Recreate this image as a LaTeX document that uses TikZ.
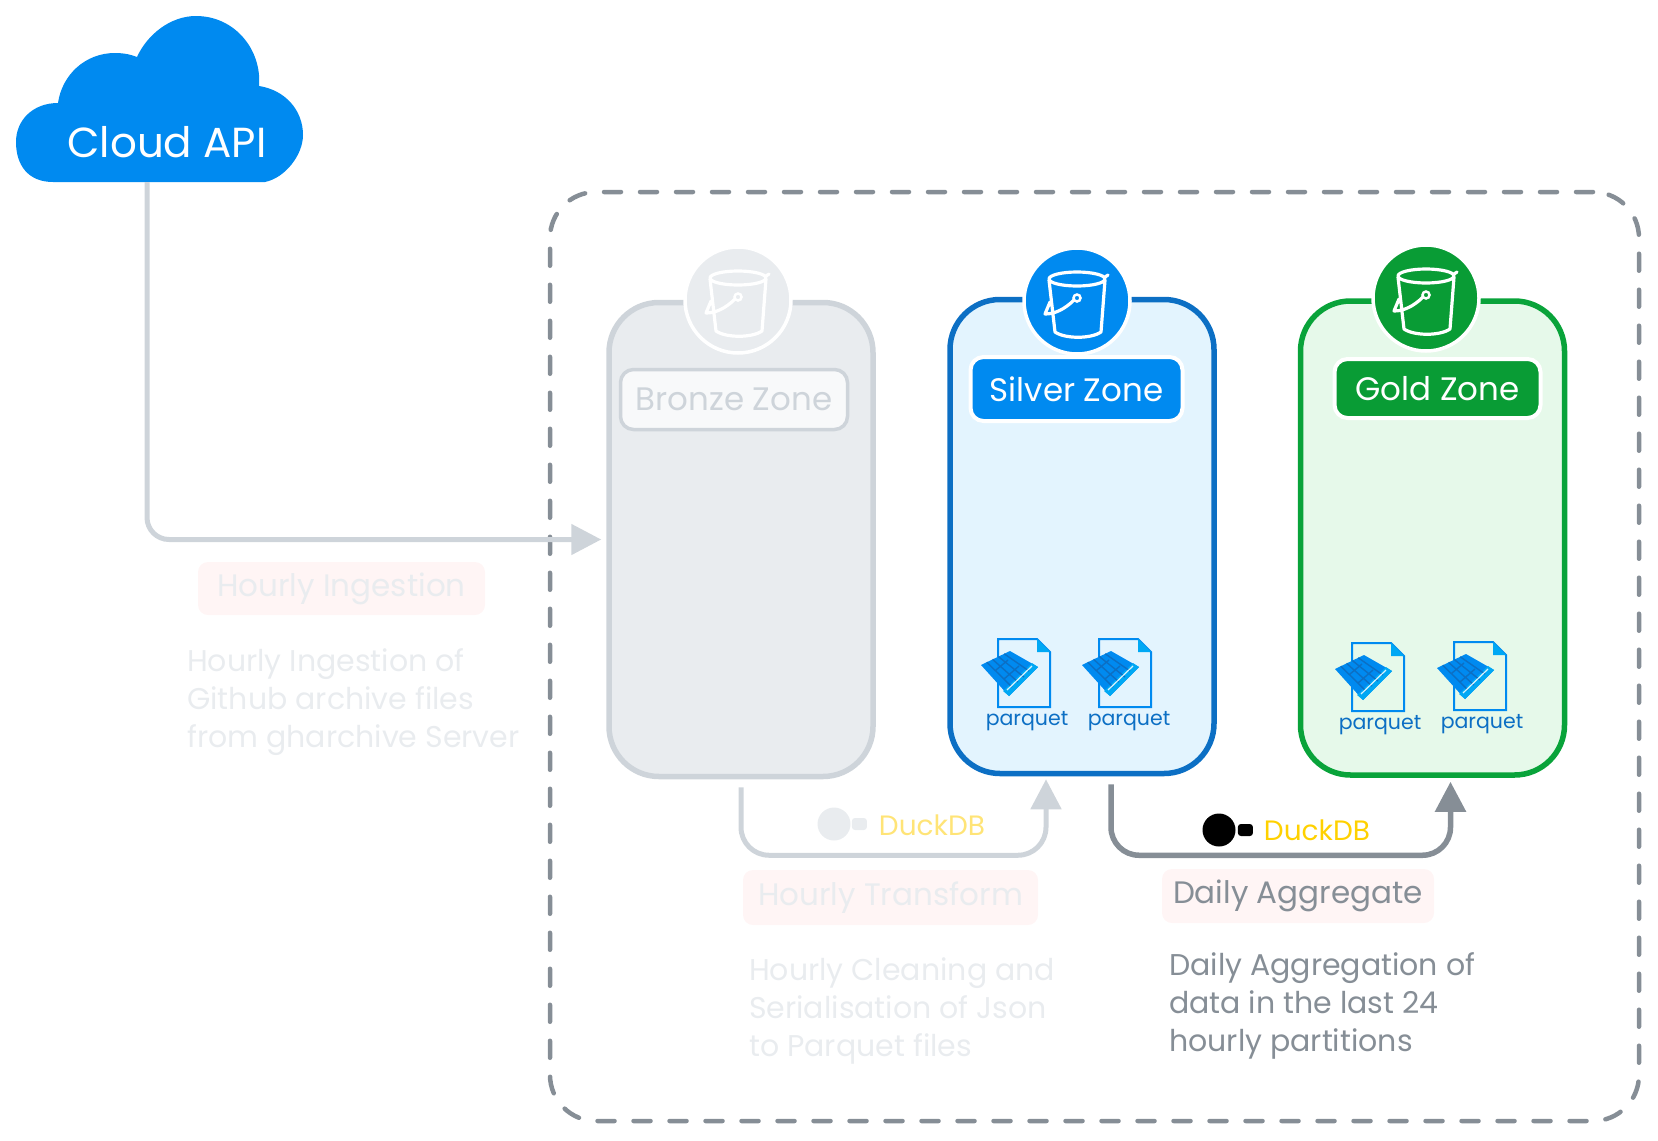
\documentclass[tikz,border=0pt]{standalone}
\usepackage{fontspec}
\setmainfont{Poppins}
\usepackage{xcolor}
\usetikzlibrary{arrows.meta, positioning, calc}

\definecolor{apiblue}{HTML}{008AF0}
\definecolor{lineblue}{HTML}{0C6FC4}
\definecolor{paleblue}{HTML}{E3F4FE}
\definecolor{cyanblue}{HTML}{00A8F4}
\definecolor{linegreen}{HTML}{09A33A}
\definecolor{bucketgreen}{HTML}{099C35}
\definecolor{palegreen}{HTML}{E6F9EA}
\definecolor{palegrey}{HTML}{E9ECEF}
\definecolor{midgrey}{HTML}{CED4DA}
\definecolor{darkgrey}{HTML}{868E96}
\definecolor{palered}{HTML}{FFF5F5}
\definecolor{duckyellow}{HTML}{FFD100}
\definecolor{fadeyellow}{HTML}{FFE477}

\tikzset{
    bucket/.pic={
        \draw[line width=3.2pt, white, line cap=round, line join=round]
            (0,-22) ellipse (28 and 7)
            (-28,-21) -- (-22,31) .. controls (-12,38) and (14,38) .. (24,31) -- (28,-21)
            (28,-24) -- (31,-26)
            (-3,-1) .. controls (-12,8) and (-22,13) .. (-32,13) -- (-27,1);
        \draw[line width=2.5pt, white] (0,-3) circle (3.5);
    },
    parquet/.pic={
        \draw[line width=2pt, apiblue] (0,0) -- (39,0) -- (52,13) -- (52,68) -- (0,68) -- cycle;
        \fill[cyanblue] (39,0) -- (52,13) -- (39,13) -- cycle;
        \fill[apiblue] (-17,26) -- (12,12) -- (40,28) -- (11,57) -- cycle;
        \fill[cyanblue] (11,57) -- (40,28) -- (34,24) -- (5,52) -- cycle;
        \draw[line width=1.4pt, lineblue]
            (-11.2,23.2) -- (14,48) (-5.4,20.4) -- (20,43) (0.4,17.6) -- (26,38) (6.2,14.8) -- (31,32)
            (-2,31) -- (10,21) (6,40) -- (21,27);
        \draw[line width=1.2pt, white!85!cyanblue] (9,51) -- (34,27);
    }
}

\begin{document}
\begin{tikzpicture}[
    x=1pt, y=-1pt,
    zonebox/.style={rectangle, draw, line width=5.5pt, rounded corners=50pt, minimum width=264pt, minimum height=474pt, inner sep=0pt},
    bucketdot/.style={circle, draw=white, line width=3.5pt, minimum size=106pt, inner sep=0pt},
    zonelabel/.style={rectangle, rounded corners=13pt, inner sep=0pt, font=\fontsize{32.5}{38}\selectfont},
    filelabel/.style={font=\fontsize{20.5}{24}\selectfont, text=lineblue, inner sep=0pt},
    steplabel/.style={rectangle, fill=palered, rounded corners=10pt, inner sep=0pt, font=\fontsize{31}{38}\selectfont},
    stepnote/.style={anchor=west, align=left, inner sep=0pt, font=\fontsize{30}{38}\selectfont},
    ducklabel/.style={font=\fontsize{28}{32}\selectfont, inner sep=0pt},
    duckhead/.style={circle, inner sep=0pt, minimum size=33pt},
    duckbill/.style={rectangle, rounded corners=3pt, inner sep=0pt, minimum width=15pt, minimum height=12pt},
    flow/.style={-{Triangle[length=30pt, width=30pt]}, rounded corners=28pt}
]
    \useasboundingbox (0,0) rectangle (1658,1141);

    % Cloud API
    \fill[apiblue] (53,182) .. controls (28,182) and (16,165) .. (16,142)
        .. controls (16,120) and (33,103) .. (58,103)
        .. controls (62,75) and (85,53) .. (115,53)
        .. controls (125,53) and (132,55) .. (137,57)
        .. controls (147,35) and (170,16) .. (196,16)
        .. controls (235,16) and (262,50) .. (259,86)
        .. controls (285,90) and (303,110) .. (303,135)
        .. controls (303,155) and (285,178) .. (265,182) -- cycle;
    \node[font=\fontsize{42}{48}\selectfont, text=white, inner sep=0pt] (cloud) at (167,142) {Cloud API};
    \coordinate (apiout) at (147,182);

    % Platform frame
    \node[rectangle, draw=darkgrey, line width=4.5pt, dash pattern=on 17pt off 19pt, line cap=round, rounded corners=46pt, minimum width=1089pt, minimum height=929pt] (platform) at (1094.5,656.5) {};

    % Bronze Zone
    \node[zonebox, fill=palegrey, draw=midgrey] (bronze) at (741,539.5) {};
    \node[bucketdot, fill=palegrey] (bronzedot) at (738,300) {};
    \pic at (bronzedot) {bucket};
    \node[zonelabel, fill=palegrey!30!white, draw=midgrey, line width=3.5pt, minimum width=227pt, minimum height=60pt, text=midgrey] (bronzelabel) at (734,399.5) {Bronze Zone};

    % Silver Zone
    \node[zonebox, fill=paleblue, draw=lineblue] (silver) at (1082,536.5) {};
    \node[bucketdot, fill=apiblue] (silverdot) at (1077,301) {};
    \pic at (silverdot) {bucket};
    \node[zonelabel, fill=apiblue, draw=white, line width=4pt, minimum width=212pt, minimum height=64pt, text=white] (silverlabel) at (1076.5,389) {Silver Zone};
    \pic at (998,639) {parquet};
    \pic at (1099,639) {parquet};
    \node[filelabel] (silverfileone) at (1027,721) {parquet};
    \node[filelabel] (silverfiletwo) at (1129,721) {parquet};

    % Gold Zone
    \node[zonebox, fill=palegreen, draw=linegreen] (gold) at (1432.5,538) {};
    \node[bucketdot, fill=bucketgreen] (golddot) at (1426,298) {};
    \pic at (golddot) {bucket};
    \node[zonelabel, fill=bucketgreen, draw=white, line width=4pt, minimum width=206pt, minimum height=59pt, text=white] (goldlabel) at (1437.5,388.5) {Gold Zone};
    \pic at (1352,643) {parquet};
    \pic at (1454,642) {parquet};
    \node[filelabel] (goldfileone) at (1380,725) {parquet};
    \node[filelabel] (goldfiletwo) at (1482,724) {parquet};

    % Ingestion
    \draw[flow, draw=midgrey, line width=5pt, shorten >=5pt, rounded corners=22pt] (apiout) |- (bronze.west);
    \node[steplabel, minimum width=287pt, minimum height=53pt, text=palegrey] (ingestlabel) at (341.5,588.5) {Hourly Ingestion};
    \node[stepnote, text=palegrey] (ingestnote) at (187,702) {Hourly Ingestion of\\Github archive files\\from gharchive Server};

    % Transform
    \draw[flow, draw=midgrey, line width=5pt, shorten <=8pt, shorten >=3pt] (bronze.south) -- ++(0,76) -| ([xshift=-36pt]silver.south);
    \node[duckhead, fill=palegrey] (duckone) at (834,824) {};
    \node[duckbill, fill=palegrey, right=1pt of duckone] (billone) {};
    \node[ducklabel, text=fadeyellow] (dbone) at (932,825) {DuckDB};
    \node[steplabel, minimum width=295pt, minimum height=55pt, text=palegrey] (transformlabel) at (890.5,897.5) {Hourly Transform};
    \node[stepnote, text=palegrey] (transformnote) at (749,1011) {Hourly Cleaning and\\Serialisation of Json\\to Parquet files};

    % Aggregate
    \draw[flow, draw=darkgrey, line width=5.5pt, shorten <=8pt, shorten >=4pt] ([xshift=29pt]silver.south) -- ++(0,79) -| ([xshift=18pt]gold.south);
    \node[duckhead, fill=black] (ducktwo) at (1219,830) {};
    \node[duckbill, fill=black, right=2pt of ducktwo] (billtwo) {};
    \node[ducklabel, text=duckyellow] (dbtwo) at (1317,830) {DuckDB};
    \node[steplabel, minimum width=272pt, minimum height=54pt, text=darkgrey] (dailylabel) at (1298,896) {Daily Aggregate};
    \node[stepnote, text=darkgrey] (dailynote) at (1169,1006) {Daily Aggregation of\\data in the last 24\\hourly partitions};

\end{tikzpicture}
\end{document}
